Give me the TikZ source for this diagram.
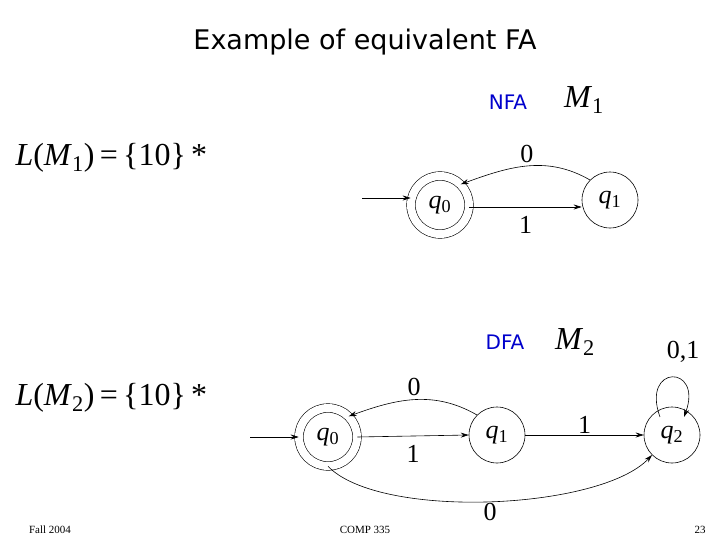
\documentclass[tikz,border=0pt]{standalone}
\usepackage{fontspec}
\setmainfont{Liberation Serif}
\newfontfamily\sansf{DejaVu Sans}
\usetikzlibrary{arrows.meta,calc}
\newcommand{\qq}[1]{\textit{q}\textsubscript{#1}}
\newcommand{\mm}[1]{\textit{M}\textsubscript{#1}}
\begin{document}
\begin{tikzpicture}[x=1pt,y=-1pt,
  st/.style={circle,draw,line width=0.6pt,minimum size=56pt,inner sep=0pt,font=\fontsize{26}{26}\selectfont},
  acc/.style={st,double,double distance=8pt,minimum size=58pt},
  ar/.style={-{Stealth[length=8pt,width=5pt]},line width=0.6pt},
  lab/.style={font=\fontsize{26}{26}\selectfont},
  big/.style={font=\fontsize{32}{32}\selectfont},
  blu/.style={font=\sansf\fontsize{20}{20}\selectfont,text=blue!80!black},
  foot/.style={font=\fontsize{11}{11}\selectfont}]
\useasboundingbox (0,0) rectangle (728,546);
\node[font=\sansf\fontsize{27}{27}\selectfont] (title) at (365,42) {Example of equivalent FA};
% NFA
\node[blu] (nfa) at (508,102) {NFA};
\node[big] (m1) at (584,100) {\mm{1}};
\node[big,anchor=west] (l1) at (12,158) {\textit{L}(\mm{1})\,=\,\{10\}\,*};
\node[acc] (a0) at (440,205) {\qq{0}};
\node[st] (a1) at (610,200) {\qq{1}};
\coordinate (ai) at (362,198);
\draw[ar] (ai) -- (a0.west|-ai);
\draw[ar] (a1.north west) to[out=150,in=20] node[lab,above] (n0) {0} (a0.north east);
\draw[ar] ($(a0.east)+(0,2)$) -- node[lab,below=6pt] (n1) {1} ($(a1.west)+(0,7)$);
% DFA
\node[blu] (dfa) at (505,342) {DFA};
\node[big] (m2) at (575,342) {\mm{2}};
\node[big,anchor=west] (l2) at (12,398) {\textit{L}(\mm{2})\,=\,\{10\}\,*};
\node[acc] (b0) at (328,437) {\qq{0}};
\node[st] (b1) at (497,435) {\qq{1}};
\node[st] (b2) at (672,435) {\qq{2}};
\coordinate (bi) at (250,437);
\draw[ar] (bi) -- (b0.west);
\draw[ar] (b1.north west) to[out=150,in=20] node[lab,above] {0} (b0.north east);
\draw[ar] (b0.east) -- node[lab,below=6pt] {1} (b1.west);
\draw[ar] (b1.east) -- node[lab,above=-2pt] {1} (b2.west);
\draw[ar] (b0.south) .. controls (380,520) and (600,510) .. node[lab,pos=0.5,below=-2pt] {0} (b2.south west);
\draw[ar] ($(b2.north west)+(8,2)$) to[out=110,in=70,looseness=6] ($(b2.north east)+(-8,2)$);
\node[lab] (l01) at (683,352) {0,1};
\node[foot] (f1) at (50,530) {Fall 2004};
\node[foot] (f2) at (365,530) {COMP 335};
\node[foot] (f3) at (700,530) {23};
\end{tikzpicture}
\end{document}
